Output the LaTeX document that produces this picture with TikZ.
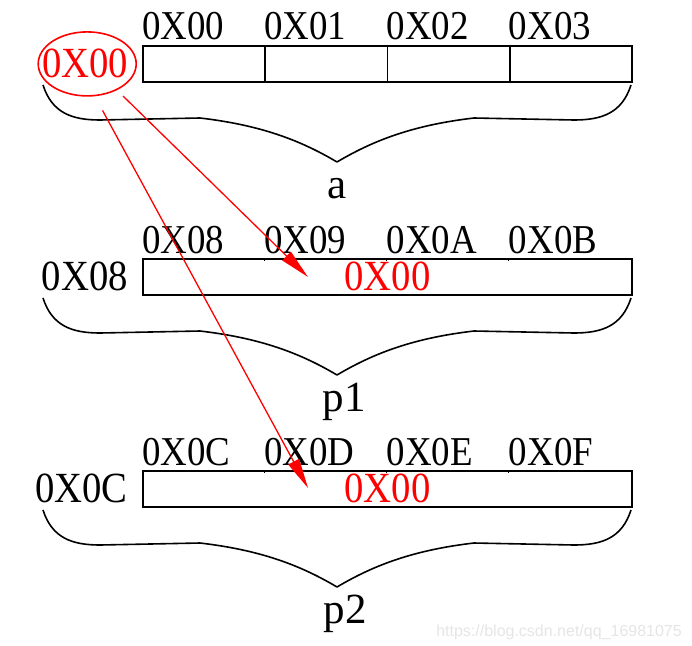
\documentclass[tikz,border=0pt]{standalone}
\usepackage{fontspec}
\setmainfont{Liberation Serif}
\newfontfamily\hexfont[FakeStretch=0.9]{Liberation Serif}
\newfontfamily\markfont{Liberation Sans}
\usetikzlibrary{arrows.meta,positioning,calc,shapes.geometric}

\begin{document}
\begin{tikzpicture}[
  x=1pt, y=-1pt,
  hex/.style={font=\hexfont\fontsize{41}{41}\selectfont, inner sep=0pt},
  sidehex/.style={font=\hexfont\fontsize{43}{43}\selectfont, inner sep=0pt},
  cell/.style={draw, line width=1.8pt, minimum width=122.25pt, minimum height=36pt,
               inner sep=0pt, anchor=north west},
  row/.style={draw, line width=1.8pt, minimum width=489pt, minimum height=36pt,
              inner sep=0pt, anchor=north west},
  brace/.style={line width=1.6pt, line join=round},
  arr/.style={red, line width=1.3pt, -{Triangle[length=30pt,width=12pt]}},
  tick/.style={line width=1.2pt}
]
\useasboundingbox (0,0) rectangle (692,645);

\foreach \i in {0,...,3}
  \node[cell] (a\i) at (142+122.25*\i,45) {};
\node[ellipse, draw=red, line width=1.6pt, inner sep=0pt,
      minimum width=98pt, minimum height=64pt, left=5pt of a0] (src) {};
\node[sidehex, text=red] (srct) at ($(src.center)+(-2,0)$) {0X00};
\foreach \i/\t in {0/0X00,1/0X01,2/0X02,3/0X03}
  \node[hex, anchor=base west] (la\i) at ($(a\i.north west)+(0,-6)$) {\t};

\node[row] (p1) at (142,258) {};
\node[sidehex, text=red] (v1) at (p1.center) {0X00};
\node[sidehex, left=14pt of p1] (n1) {0X08};
\foreach \i/\t in {0/0X08,1/0X09,2/0X0A,3/0X0B}
  \node[hex, anchor=base west] (lp1\i) at ($(p1.north west)+(122.25*\i,-5)$) {\t};

\node[row] (p2) at (142,470) {};
\node[sidehex, text=red] (v2) at (p2.center) {0X00};
\node[sidehex, left=14pt of p2] (n2) {0X0C};
\foreach \i/\t in {0/0X0C,1/0X0D,2/0X0E,3/0X0F}
  \node[hex, anchor=base west] (lp2\i) at ($(p2.north west)+(122.25*\i,-5)$) {\t};

\foreach \r in {p1,p2}
  \foreach \i in {1,2,3}
    \draw[tick] ($(\r.north west)+(122.25*\i,0)$) -- ++(0,3);

\foreach \yb/\lab/\dx in {81/a/0,294/p1/7,506/p2/8}{
  \begin{scope}[shift={(0,\yb)}]
    \draw[brace] (43,4) .. controls (52,32) and (72,39) .. (100,39) -- (200,37)
      .. controls (260,44) and (300,59) .. (337,81)
      .. controls (374,59) and (414,44) .. (474,37) -- (574,39)
      .. controls (602,39) and (622,32) .. (631,4);
    \node[font=\fontsize{43}{43}\selectfont, inner sep=0pt, anchor=base]
      (lab\lab) at (337+\dx,117) {\lab};
  \end{scope}
}

\coordinate (tip1) at (308,277);
\coordinate (tip2) at (308,488);
\draw[arr, shorten <=46pt] ($(src.center)+(3,0)$) -- (tip1);
\draw[arr, shorten <=53pt] ($(src.center)+(-10,0)$) -- (tip2);

\node[font=\markfont\fontsize{16}{16}\selectfont, text=black!10, inner sep=0pt,
      anchor=base east] (wm) at (682,636) {https://blog.csdn.net/qq\_16981075};
\end{tikzpicture}
\end{document}
